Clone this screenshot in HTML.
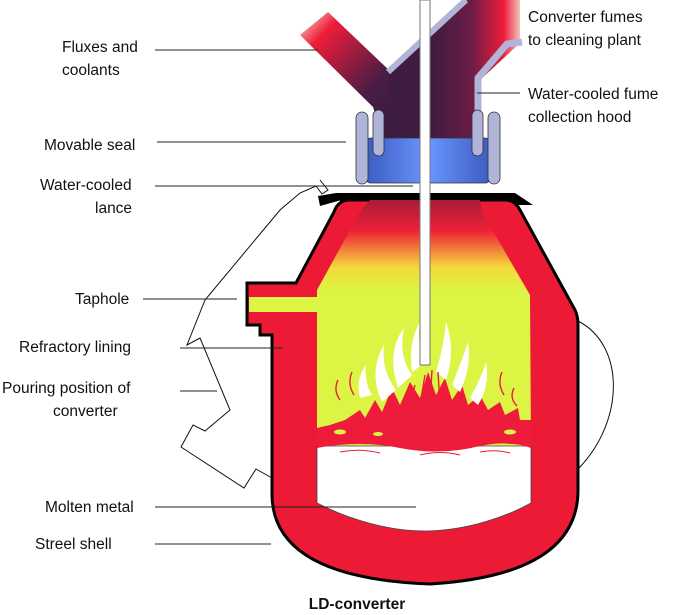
<!DOCTYPE html>
<html><head><meta charset="utf-8"><style>
html,body{margin:0;padding:0;background:#fff}
svg{display:block}
text{font-family:"Liberation Sans",Arial,sans-serif;font-size:15.5px;fill:#111}
</style></head><body>
<svg width="685" height="615" viewBox="0 0 685 615" xmlns="http://www.w3.org/2000/svg">
<defs>
<linearGradient id="hoodL" x1="300" y1="20" x2="395" y2="110" gradientUnits="userSpaceOnUse">
<stop offset="0" stop-color="#f4c8b8"/><stop offset="0.2" stop-color="#ee1c3a"/><stop offset="0.75" stop-color="#4a1c44"/><stop offset="1" stop-color="#3e1c40"/></linearGradient>
<linearGradient id="hoodR" x1="430" y1="0" x2="522" y2="0" gradientUnits="userSpaceOnUse">
<stop offset="0" stop-color="#3e1c40"/><stop offset="0.45" stop-color="#6a1c46"/><stop offset="0.8" stop-color="#ee1c3a"/><stop offset="1" stop-color="#f4d8c8"/></linearGradient>
<linearGradient id="seal" x1="0" y1="0" x2="1" y2="0">
<stop offset="0" stop-color="#3c5cc0"/><stop offset="0.5" stop-color="#6a96ff"/><stop offset="1" stop-color="#3c5cc0"/></linearGradient>
<linearGradient id="inner" x1="0" y1="200" x2="0" y2="505" gradientUnits="userSpaceOnUse">
<stop offset="0" stop-color="#a81c38"/><stop offset="0.1" stop-color="#ee2038"/><stop offset="0.22" stop-color="#f4d83a"/><stop offset="0.3" stop-color="#dcf544"/><stop offset="1" stop-color="#dcf544"/></linearGradient>
</defs>

<!-- pouring outline -->
<polyline points="320,180 328,190 322,194 316,186 300,193 280,210 205,300 187,345 200,338 230,410 205,431 193,425 181,447 244,488 256,469 272,478" fill="none" stroke="#111" stroke-width="1"/>
<path d="M578,321 C625,345 625,420 579,468" fill="none" stroke="#111" stroke-width="1"/>

<!-- hood -->
<path d="M388,73 L467,0 L520,0 L520,43 L480,80 L477,140 L388,140 Z" fill="url(#hoodR)"/>
<path d="M300,35 L328,12 L392,73 L420,73 L420,140 L383,138 L373,107 Z" fill="url(#hoodL)"/>
<path d="M388,73 L420,73 L420,140 L395,140 Z" fill="#3e1c40"/>
<path d="M388,72 L466,0" stroke="#b0b4d8" stroke-width="6" fill="none"/>
<path d="M522,42 L507,44 L478,78 L478,150" stroke="#b0b4d8" stroke-width="7" fill="none" stroke-linejoin="round"/>
<!-- seal -->
<rect x="366" y="138" width="124" height="45" rx="5" fill="url(#seal)" stroke="#333" stroke-width="0.8"/>
<rect x="356" y="112" width="12" height="72" rx="6" fill="#b0b4d8" stroke="#333" stroke-width="0.8"/>
<rect x="488" y="112" width="12" height="72" rx="6" fill="#b0b4d8" stroke="#333" stroke-width="0.8"/>
<rect x="373" y="110" width="11" height="46" rx="5.5" fill="#b0b4d8" stroke="#333" stroke-width="0.8"/>
<rect x="472" y="110" width="11" height="46" rx="5.5" fill="#b0b4d8" stroke="#333" stroke-width="0.8"/>

<!-- vessel shell -->
<path d="M340,200 L505,200 Q515,200 520,210 L575,310 Q578,316 578,325 L578,490 Q578,575 430,584 Q273,578 272,495 L272,335 L260,335 L260,325 L247,325 L247,283 L296,283 L334,212 Q338,200 350,200 Z" fill="#ec1a35" stroke="#000" stroke-width="3"/>
<path d="M318,196 L336,193 L515,193 L533,205 L518,205 L505,199 L345,199 L320,206 Z" fill="#000"/>
<!-- interior -->
<path d="M370,200 L480,200 L482,212 L530,295 L531,448 L317,448 L317,290 L360,212 Z" fill="url(#inner)"/>
<rect x="249" y="297" width="70" height="15" fill="#dcf544"/>
<!-- metal -->
<path d="M317,446 L531,446 L531,503 C500,520 460,531 424,531 C390,531 350,520 317,503 Z" fill="#fff" stroke="#444" stroke-width="0.8"/>
<!-- slag -->
<path d="M317,428 L330,425 L345,420 L360,410 L365,418 L375,400 L382,412 L392,388 L400,405 L410,382 L420,398 L428,372 L436,395 L445,378 L452,400 L462,385 L468,405 L480,395 L488,410 L500,402 L505,415 L518,408 L520,420 L531,420 L531,448 Q510,440 480,446 Q440,456 400,448 Q360,440 317,448 Z" fill="#ee1c3a"/>
<!-- flames -->
<g fill="#fff">
<path d="M382,402 Q368,372 384,345 Q381,370 396,390 Z"/>
<path d="M398,388 Q386,352 404,328 Q398,355 412,375 Z"/>
<path d="M412,372 Q408,342 420,322 Q416,345 426,362 Z"/>
<path d="M436,372 Q444,345 446,322 Q456,350 446,380 Z"/>
<path d="M452,385 Q464,355 468,342 Q472,366 460,392 Z"/>
<path d="M470,398 Q484,372 486,362 Q490,386 478,405 Z"/>
<path d="M360,398 Q355,380 366,365 Q364,382 372,395 Z"/>
</g>
<g stroke="#ee1c3a" stroke-width="1.4" fill="none">
<path d="M338,380 Q333,390 340,400"/><path d="M352,372 Q347,384 354,395"/><path d="M502,372 Q497,384 504,395"/><path d="M514,388 Q509,398 517,406"/>
<path d="M420,405 L425,375"/><path d="M430,405 L432,370"/><path d="M440,405 L438,372"/><path d="M410,405 L415,385"/>
</g>
<g fill="#dcf544"><ellipse cx="340" cy="432" rx="6" ry="2.5"/><ellipse cx="378" cy="434" rx="5" ry="2"/><ellipse cx="510" cy="432" rx="6" ry="2.5"/></g>
<path d="M320,440 Q345,434 370,442 Q395,448 420,442 Q460,434 500,442 Q515,445 530,442" stroke="#ee1c3a" stroke-width="1.2" fill="none"/>
<path d="M340,452 Q360,448 380,453 M420,455 Q440,450 460,455 M480,452 Q495,449 510,453" stroke="#ee1c3a" stroke-width="1" fill="none"/>
<!-- lance -->
<rect x="420" y="0" width="10" height="365" fill="#fff" stroke="#777" stroke-width="1"/>

<!-- leader lines -->
<g stroke="#222" stroke-width="1">
<line x1="155" y1="50" x2="318" y2="50"/>
<line x1="157" y1="142" x2="346" y2="142"/>
<line x1="155" y1="186" x2="413" y2="186"/>
<line x1="143" y1="299" x2="237" y2="299"/>
<line x1="180" y1="348" x2="283" y2="348"/>
<line x1="180" y1="391" x2="217" y2="391"/>
<line x1="155" y1="507" x2="416" y2="507"/>
<line x1="155" y1="544" x2="271" y2="544"/>
<line x1="477" y1="93" x2="520" y2="93"/>
</g>
<text x="62" y="52">Fluxes and</text><text x="62" y="75">coolants</text>
<text x="44" y="150">Movable seal</text>
<text x="40" y="190">Water-cooled</text><text x="95" y="213">lance</text>
<text x="75" y="304">Taphole</text>
<text x="19" y="352">Refractory lining</text>
<text x="2" y="393">Pouring position of</text><text x="53" y="416">converter</text>
<text x="45" y="512">Molten metal</text>
<text x="35" y="549">Streel shell</text>
<text x="528" y="22">Converter fumes</text><text x="528" y="45">to cleaning plant</text>
<text x="528" y="99">Water-cooled fume</text><text x="528" y="122">collection hood</text>
<text x="357" y="609" text-anchor="middle" style="font-weight:bold">LD-converter</text>
</svg>
</body></html>
